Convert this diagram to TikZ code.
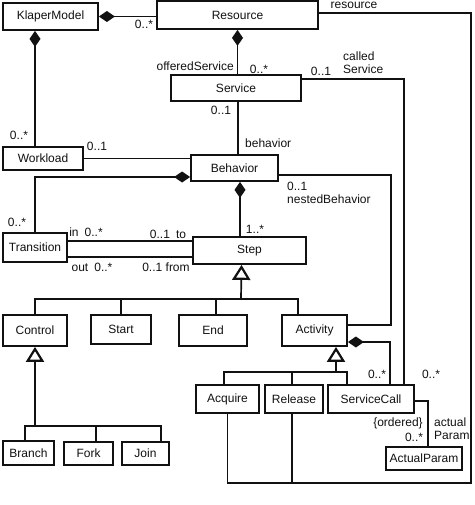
\documentclass[tikz,border=0pt]{standalone}
\usepackage{fontspec}
\setmainfont{Liberation Sans}
\usetikzlibrary{arrows.meta,calc,positioning}
\definecolor{umlink}{HTML}{111111}
\tikzset{
  umlbox/.style={draw=umlink, fill=white, line width=1.8pt, inner sep=0pt,
    font=\fontsize{12}{13.5}\selectfont, text=umlink, align=center},
  umllabel/.style={font=\fontsize{12}{13.5}\selectfont, text=umlink, inner sep=0pt},
  umlline/.style={draw=umlink, line width=1.7pt},
  compline/.style={umlline, {Diamond[length=16pt,width=11pt]}-},
  genline/.style={umlline, -{Triangle[open,length=15pt,width=18pt,line width=2.2pt]}}
}
\begin{document}
\begin{tikzpicture}[x=1pt,y=-1pt]
  \useasboundingbox (0,0) rectangle (474,505);
  % classes
  \node[umlbox, minimum width=95pt, minimum height=27pt] (klaper) at (50.5,16.5) {KlaperModel};
  \node[umlbox, minimum width=161pt, minimum height=28pt] (resource) at (237.5,15) {Resource};
  \node[umlbox, minimum width=130pt, minimum height=26pt] (service) at (236,88) {Service};
  \node[umlbox, minimum width=80pt, minimum height=23pt] (workload) at (43,158.5) {Workload};
  \node[umlbox, minimum width=87pt, minimum height=26pt] (behavior) at (234.5,168) {Behavior};
  \node[umlbox, minimum width=64pt, minimum height=29pt] (transition) at (35,247.5) {Transition};
  \node[umlbox, minimum width=113pt, minimum height=27pt] (step) at (249.5,250.5) {Step};
  \node[umlbox, minimum width=64pt, minimum height=31pt] (control) at (35,330.5) {Control};
  \node[umlbox, minimum width=60pt, minimum height=29pt] (start) at (121,329.5) {Start};
  \node[umlbox, minimum width=68pt, minimum height=31pt] (end) at (213,330.5) {End};
  \node[umlbox, minimum width=65pt, minimum height=31pt] (activity) at (314.5,330.5) {Activity};
  \node[umlbox, minimum width=51pt, minimum height=24pt] (branch) at (28.5,453) {Branch};
  \node[umlbox, minimum width=49pt, minimum height=23pt] (fork) at (88.5,453.5) {Fork};
  \node[umlbox, minimum width=47pt, minimum height=23pt] (join) at (145.5,453.5) {Join};
  \node[umlbox, minimum width=63pt, minimum height=28pt] (acquire) at (227.5,399) {Acquire};
  \node[umlbox, minimum width=58pt, minimum height=28pt] (release) at (294,399) {Release};
  \node[umlbox, minimum width=86pt, minimum height=28pt] (servicecall) at (371,399) {ServiceCall};
  \node[umlbox, minimum width=76pt, minimum height=23pt] (actualparam) at (424,458.5) {ActualParam};

  % helper points for the bars and the long resource route
  \coordinate (rescorner) at (471,483);
  \coordinate (stepbar) at (241,299);
  \coordinate (ctrlbar) at (35,426);
  \coordinate (actbar) at (336,372);

  % compositions and associations
  \draw[compline] (klaper.east) -- (klaper.east -| resource.west);
  \node[umllabel] (lklres) at (144,24) {0..*};
  \draw[compline] ([xshift=-15.5pt]klaper.south) -- ([xshift=-15.5pt]klaper.south |- workload.north);
  \node[umllabel] (lklwl) at (19,135) {0..*};
  \draw[compline] (resource.south) -- (resource.south |- service.north);
  \node[umllabel, anchor=east] (loffer) at (234,66) {offeredService};
  \node[umllabel] (lofferm) at (259,69) {0..*};
  \draw[umlline] ([yshift=2pt]resource.east) -- ([yshift=2pt]resource.east -| rescorner)
    -- (rescorner) -- (rescorner -| acquire.south) -- (acquire.south);
  \draw[umlline] ([xshift=-2pt]release.south) -- ([xshift=-2pt]release.south |- rescorner);
  \node[umllabel] (lres) at (354,5) {resource};
  \draw[umlline] ([yshift=9pt]service.east) -| ([xshift=33pt]servicecall.north);
  \node[umllabel] (lcallm) at (321,71) {0..1};
  \node[umllabel, anchor=west, align=left] (lcall) at (343,62.5) {called\\Service};
  \node[umllabel] (lcallsc) at (431,374) {0..*};
  \draw[umlline] ([xshift=2pt]service.south) -- ([xshift=2pt]service.south |- behavior.north);
  \node[umllabel] (lsrvbeh) at (221,110) {0..1};
  \node[umllabel, anchor=west] (lbeh) at (245,143) {behavior};
  \draw[umlline] (workload.east) -- (workload.east -| behavior.west);
  \node[umllabel] (lwlbeh) at (97,146) {0..1};
  \draw[compline] ([yshift=-9pt]behavior.west) -| (transition.north);
  \node[umllabel] (ltrans) at (17,222) {0..*};
  \draw[compline] ([xshift=5.5pt]behavior.south) -- ([xshift=5.5pt]behavior.south |- step.north);
  \node[umllabel] (lsteps) at (255,229) {1..*};
  \draw[umlline] ([yshift=6.5pt]transition.east) -- ([yshift=6.5pt]transition.east -| step.west);
  \draw[umlline] ([yshift=-9.5pt]transition.east) -- ([yshift=-9.5pt]transition.east -| step.west);
  \node[umllabel] (lin) at (86,232) {in\enspace 0..*};
  \node[umllabel] (lto) at (168,234) {0..1\enspace to};
  \node[umllabel] (lout) at (92,267) {out\enspace 0..*};
  \node[umllabel] (lfrom) at (166,267) {0..1 from};
  \draw[umlline] ([yshift=-7pt]behavior.east) -| ([xshift=43pt,yshift=5.5pt]activity.east)
    -- ([yshift=5.5pt]activity.east);
  \node[umllabel, anchor=west, align=left] (lnest) at (287,193) {0..1\\nestedBehavior};
  \draw[compline] ([yshift=-11.5pt]activity.east) -| ([xshift=19pt]servicecall.north);
  \node[umllabel] (lscm) at (377,374) {0..*};
  \draw[umlline] ([yshift=-2pt]servicecall.east) -| ([xshift=4pt]actualparam.north);
  \node[umllabel] (lord) at (398,423) {\{ordered\}};
  \node[umllabel] (lapm) at (414,437) {0..*};
  \node[umllabel, anchor=west, align=left] (lap) at (434,428.5) {actual\\Param};

  % generalizations
  \draw[genline] (stepbar) -- ([xshift=-8pt]step.south);
  \draw[umlline] (control.north) |- (stepbar) -| ([xshift=-16.5pt]activity.north);
  \draw[umlline] (start.north) -- (start.north |- stepbar);
  \draw[umlline] ([xshift=3pt]end.north) -- ([xshift=3pt]end.north |- stepbar);
  \draw[genline] (ctrlbar) -- (control.south);
  \draw[umlline] ([xshift=-3.5pt]branch.north) |- (ctrlbar) -| ([xshift=15.5pt]join.north);
  \draw[umlline] ([xshift=7.5pt]fork.north) -- ([xshift=7.5pt]fork.north |- ctrlbar);
  \draw[genline] (actbar) -- ([xshift=21.5pt]activity.south);
  \draw[umlline] ([xshift=-3.5pt]acquire.north) |- (actbar) -| ([xshift=-24pt]servicecall.north);
  \draw[umlline] ([xshift=-2pt]release.north) -- ([xshift=-2pt]release.north |- actbar);
\end{tikzpicture}
\end{document}
